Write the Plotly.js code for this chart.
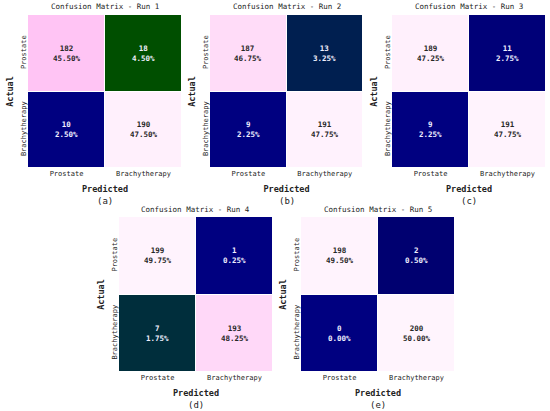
<!DOCTYPE html>
<html>
<head>
<meta charset="utf-8">
<script src="https://cdn.plot.ly/plotly-3.0.1.min.js"></script>
<style>html,body{margin:0;padding:0;background:#fff;}#chart{width:550px;height:411px;}</style>
</head>
<body>
<div id="chart"></div>
<script>
// ---- data ----
const classes = ["Prostate", "Brachytherapy"];
const runTitles = ["Confusion Matrix - Run 1", "Confusion Matrix - Run 2", "Confusion Matrix - Run 3", "Confusion Matrix - Run 4", "Confusion Matrix - Run 5"];
const captions = ["(a)", "(b)", "(c)", "(d)", "(e)"];
// rows: actual [Prostate, Brachytherapy]; cols: predicted [Prostate, Brachytherapy]
const run1 = [[182, 18], [10, 190]];
const run2 = [[187, 13], [9, 191]];
const run3 = [[189, 11], [9, 191]];
const run4 = [[199, 1], [7, 193]];
const run5 = [[198, 2], [0, 200]];
const runs = [run1, run2, run3, run4, run5];

// ---- styles ----
const cellColors = [
  [["#ffc4f4", "#004f00"], ["#000080", "#fff0fc"]],
  [["#ffdcf8", "#001f50"], ["#000080", "#fff2fd"]],
  [["#fff0fc", "#000078"], ["#000080", "#fff3fd"]],
  [["#fff3fd", "#000080"], ["#002e3c", "#ffd8f8"]],
  [["#fff3fd", "#000070"], ["#000080", "#fff4fd"]]
];
const xDomains = [[28/550, 182/550], [210/550, 363/550], [392/550, 546/550], [119/550, 273/550], [301/550, 455/550]];
const yDomains = [[1-168/411, 1-15/411], [1-168/411, 1-15/411], [1-168/411, 1-15/411], [1-372/411, 1-217/411], [1-372/411, 1-217/411]];
const mono = "DejaVu Sans Mono, monospace";

const traces = [];
const annotations = [];
const layout = {
  width: 550, height: 411,
  margin: {l: 0, r: 0, t: 0, b: 0},
  paper_bgcolor: "#ffffff", plot_bgcolor: "#ffffff",
  showlegend: false,
  font: {family: mono, color: "#222"}
};

runs.forEach((m, i) => {
  const n = i + 1;
  const sfx = n === 1 ? "" : String(n);
  const flat = [];
  m.forEach((row, r) => row.forEach((v, c) => flat.push({v, col: cellColors[i][r][c]})));
  flat.sort((a, b) => a.v - b.v);
  const zmin = flat[0].v, zmax = flat[flat.length - 1].v;
  const cs = flat.map(f => [(f.v - zmin) / (zmax - zmin), f.col]);
  const total = m.flat().reduce((a, b) => a + b, 0);

  traces.push({
    type: "heatmap",
    x: classes, y: classes, z: m,
    zmin, zmax, colorscale: cs, showscale: false,
    xgap: 1, ygap: 1, hoverinfo: "skip",
    xaxis: "x" + sfx, yaxis: "y" + sfx
  });

  m.forEach((row, r) => row.forEach((v, c) => {
    const col = cellColors[i][r][c];
    const dark = parseInt(col.slice(1, 3), 16) < 128;
    annotations.push({
      xref: "x" + sfx, yref: "y" + sfx,
      x: classes[c], y: classes[r],
      text: "<b>" + v + "<br>" + (v / total * 100).toFixed(2) + "%</b>",
      showarrow: false,
      font: {family: mono, size: 7.5, color: dark ? "#f0f0ff" : "#262626"}
    });
  }));

  const xc = (xDomains[i][0] + xDomains[i][1]) / 2;
  annotations.push({
    xref: "paper", yref: "paper", x: xc, y: yDomains[i][1], yshift: 8,
    xanchor: "center", yanchor: "middle",
    text: runTitles[i], showarrow: false,
    font: {family: mono, size: 7.5, color: "#222"}
  });
  annotations.push({
    xref: "paper", yref: "paper", x: xc, y: yDomains[i][0], yshift: -33,
    xanchor: "center", yanchor: "middle",
    text: captions[i], showarrow: false,
    font: {family: mono, size: 9, color: "#222"}
  });

  layout["xaxis" + sfx] = {
    domain: xDomains[i], anchor: "y" + sfx, type: "category",
    showgrid: false, zeroline: false, showline: false, ticks: "",
    tickfont: {family: mono, size: 7, color: "#222"},
    title: {text: "<b>Predicted</b>", font: {family: mono, size: 8.5, color: "#222"}, standoff: 9},
    fixedrange: true
  };
  layout["yaxis" + sfx] = {
    domain: yDomains[i], anchor: "x" + sfx, type: "category",
    autorange: "reversed", tickangle: -90,
    showgrid: false, zeroline: false, showline: false, ticks: "",
    tickfont: {family: mono, size: 7, color: "#222"},
    title: {text: "<b>Actual</b>", font: {family: mono, size: 8.5, color: "#222"}, standoff: 4},
    fixedrange: true
  };
});
layout.annotations = annotations;

Plotly.newPlot("chart", traces, layout, {staticPlot: true, displayModeBar: false});
</script>
</body>
</html>
